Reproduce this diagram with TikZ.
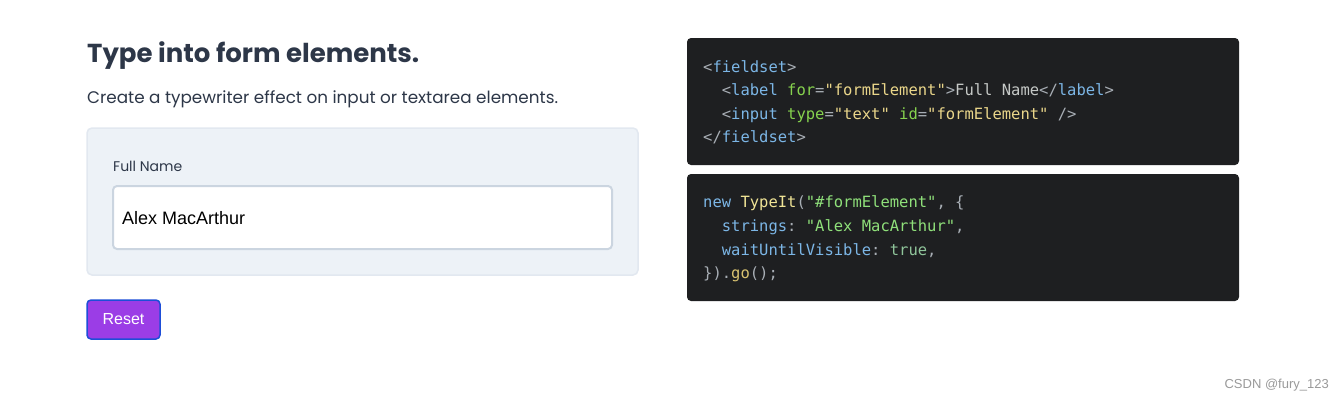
\documentclass[tikz,border=0pt]{standalone}
\usepackage{xcolor}
\usepackage{fontspec}
\usepackage{tikz}
\setmainfont{Poppins}
\setmonofont{DejaVu Sans Mono}
\newfontfamily\arialfont{Liberation Sans}

\definecolor{headink}{HTML}{2D3748}
\definecolor{formbg}{HTML}{EDF2F7}
\definecolor{formline}{HTML}{E2E8F0}
\definecolor{inputline}{HTML}{CBD5E0}
\definecolor{btnfill}{HTML}{9B3DE6}
\definecolor{btnline}{HTML}{1D4ED8}
\definecolor{codebg}{HTML}{1E1F21}
\definecolor{tagc}{HTML}{7CB6E6}
\definecolor{punc}{HTML}{A8AEB5}
\definecolor{attc}{HTML}{86D24E}
\definecolor{strc}{HTML}{EAD68A}
\definecolor{txtc}{HTML}{C5C8C6}
\definecolor{grnc}{HTML}{8FE07A}
\definecolor{fnc}{HTML}{F0E496}
\definecolor{boolc}{HTML}{8FC49A}
\definecolor{goc}{HTML}{D8C270}
\definecolor{markc}{HTML}{9A9A9A}

\newcommand{\cPun}[1]{\textcolor{punc}{#1}}
\newcommand{\cTag}[1]{\textcolor{tagc}{#1}}
\newcommand{\cAtt}[1]{\textcolor{attc}{#1}}
\newcommand{\cStr}[1]{\textcolor{strc}{#1}}
\newcommand{\cTxt}[1]{\textcolor{txtc}{#1}}
\newcommand{\cGrn}[1]{\textcolor{grnc}{#1}}
\newcommand{\cFn}[1]{\textcolor{fnc}{#1}}
\newcommand{\cBool}[1]{\textcolor{boolc}{#1}}
\newcommand{\cGo}[1]{\textcolor{goc}{#1}}

\tikzset{
  codebox/.style={fill=codebg,rounded corners=4pt,minimum width=552pt,minimum height=127pt,inner sep=0pt},
  codeline/.style={anchor=base west,inner sep=0pt,font=\ttfamily\fontsize{15.5}{18}\selectfont},
  plain/.style={anchor=base west,inner sep=0pt,text=headink}
}

\begin{document}
\begin{tikzpicture}[x=1pt,y=-1pt]
    \useasboundingbox[fill=white] (0,0) rectangle (1343,400);
    % left column
    \node[plain,font=\bfseries\fontsize{26}{30}\selectfont](title) at (87,62){Type into form elements.};
    \node[plain,font=\fontsize{16.8}{20}\selectfont](sub) at (87,103){Create a typewriter effect on input or textarea elements.};
    \node[fill=formbg,draw=formline,line width=1.5pt,rounded corners=5pt,minimum width=551pt,minimum height=147pt,inner sep=0pt](form) at (362.5,201.5){};
    \node[plain,font=\fontsize{14}{16}\selectfont](lbl) at (113,171){Full Name};
    \node[fill=white,draw=inputline,line width=2pt,rounded corners=4pt,minimum width=499pt,minimum height=63pt,inner sep=0pt](input) at (362.5,217.5){};
    \node[anchor=base west,inner sep=0pt,font=\arialfont\fontsize{18}{20}\selectfont](name) at (122,224){Alex MacArthur};
    \node[fill=btnfill,draw=btnline,line width=1.5pt,rounded corners=4pt,minimum width=73pt,minimum height=39pt,inner sep=0pt,text=white,font=\arialfont\fontsize{16}{18}\selectfont](reset) at (123.5,319.5){Reset};
    % code blocks
    \node[codebox](codeA) at (963,101.5){};
    \node[codeline](a1) at (703,72){\cPun{<}\cTag{fieldset}\cPun{>}};
    \node[codeline](a2) at (721.7,95){\cPun{<}\cTag{label} \cAtt{for}\cPun{=}\cStr{"formElement"}\cPun{>}\cTxt{Full Name}\cPun{</}\cTag{label}\cPun{>}};
    \node[codeline](a3) at (721.7,119){\cPun{<}\cTag{input} \cAtt{type}\cPun{=}\cStr{"text"} \cAtt{id}\cPun{=}\cStr{"formElement"} \cPun{/>}};
    \node[codeline](a4) at (703,142){\cPun{</}\cTag{fieldset}\cPun{>}};
    \node[codebox](codeB) at (963,237.5){};
    \node[codeline](b1) at (703,207){\cTag{new} \cFn{TypeIt}\cPun{(}\cGrn{"\#formElement"}\cPun{, \{}};
    \node[codeline](b2) at (721.7,231){\cTag{strings}\cPun{: }\cGrn{"Alex MacArthur"}\cPun{,}};
    \node[codeline](b3) at (721.7,255){\cTag{waitUntilVisible}\cPun{: }\cBool{true}\cPun{,}};
    \node[codeline](b4) at (703,278){\cPun{\}).}\cGo{go}\cPun{();}};
    % watermark
    \node[anchor=base east,inner sep=0pt,text=markc,font=\arialfont\fontsize{13}{14}\selectfont](mark) at (1329,388){CSDN @fury\_123};
\end{tikzpicture}
\end{document}
